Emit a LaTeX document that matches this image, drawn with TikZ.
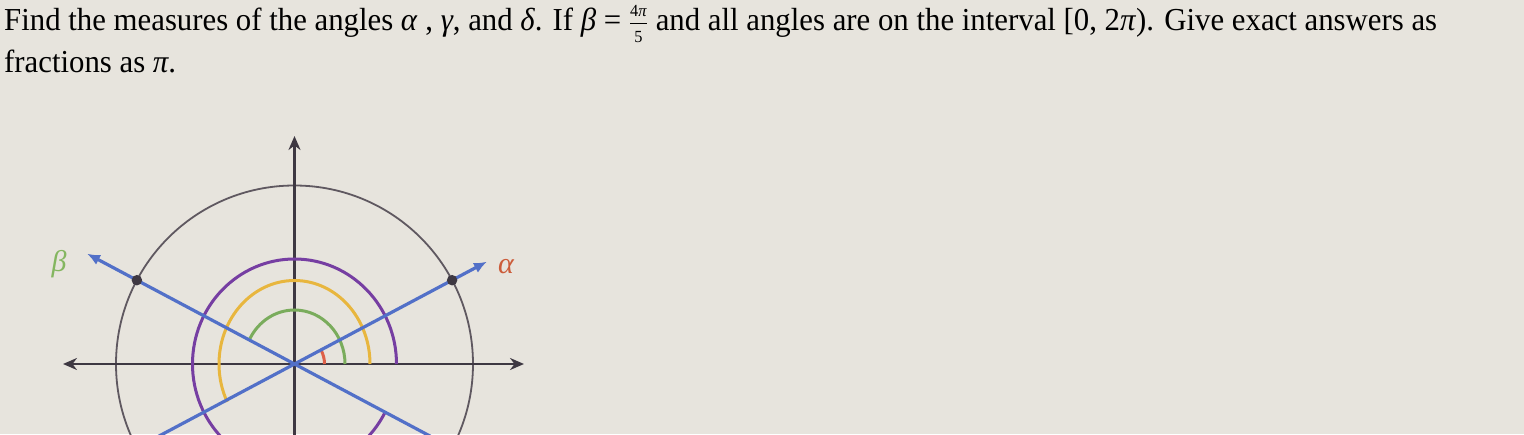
\RequirePackage{fix-cm}
\documentclass[tikz,border=0pt]{standalone}
\usepackage{fontspec}
\setmainfont{Liberation Serif}
\usetikzlibrary{arrows.meta,calc}
\definecolor{bgc}{RGB}{231,228,221}
\definecolor{txt}{RGB}{48,40,56}
\definecolor{axisc}{RGB}{62,56,66}
\definecolor{circc}{RGB}{95,88,96}
\definecolor{bluel}{RGB}{82,112,200}
\definecolor{purp}{RGB}{118,62,162}
\definecolor{yell}{RGB}{232,182,62}
\definecolor{grn}{RGB}{122,172,92}
\definecolor{redc}{RGB}{222,96,72}
\definecolor{alphac}{RGB}{204,92,58}
\definecolor{betac}{RGB}{132,182,96}
\newsavebox\lineonebox
\newsavebox\linetwobox
\newcommand\gk[1]{\textit{#1}}
\newcommand\smallfr[2]{\raisebox{-0.5pt}{\ensuremath{\frac{\hbox{\fontsize{17}{18}\selectfont\raisebox{2pt}{#1}}}{\hbox{\fontsize{17}{18}\selectfont #2}}}}}
\begin{document}
\sbox\lineonebox{\fontsize{32}{38}\selectfont Find the measures of the angles \gk{α} , \gk{γ}, and \gk{δ}. If \gk{β} = \smallfr{4\gk{π}}{5} and all angles are on the interval [0, 2\gk{π}). Give exact answers as}%
\sbox\linetwobox{\fontsize{32}{38}\selectfont fractions as \gk{π}.}%
\pgfmathsetmacro\sx{1433/\wd\lineonebox}%
\begin{tikzpicture}[x=1pt,y=1pt,
  axisline/.style={draw=axisc,line width=2.4pt},
  blueline/.style={draw=bluel,line width=3.2pt},
  arcline/.style={line width=3pt},
  dotmark/.style={circle,fill=axisc,inner sep=0pt,minimum size=10.5pt},
  lbl/.style={font=\fontsize{30}{34}\selectfont\itshape},
  txtline/.style={anchor=base west,inner sep=0pt,text=txt}]
\useasboundingbox (0,0) rectangle (1524,434);
\fill[bgc] (0,0) rectangle (1524,434);
\clip (0,0) rectangle (1524,434);
% text
\node[txtline] (t1) at (4,403) {\scalebox{\sx}[1]{\usebox\lineonebox}};
\node[txtline] (t2) at (4,361) {\scalebox{\sx}[1]{\usebox\linetwobox}};
% geometry
\coordinate (O) at (294.5,70);
\coordinate (xl) at (63,70);
\coordinate (xr) at (524,70);
\coordinate (yb) at (294.5,-20);
\coordinate (yt) at (294.5,298);
\coordinate (Atip) at ($(O)+(28:218)$);
\coordinate (Aback) at ($(O)+(208:280)$);
\coordinate (Btip) at ($(O)+(152:235)$);
\coordinate (Bback) at ($(O)+(332:280)$);
% outer circle
\draw[circc,line width=1.8pt] (O) circle (178.5);
% axes
\draw[axisline,{Stealth[length=14pt,width=12pt]}-{Stealth[length=14pt,width=12pt]}] (xl) -- (xr);
\draw[axisline,-{Stealth[length=14pt,width=12pt]}] (yb) -- (yt);
% angle arcs
\draw[arcline,purp] ($(O)+(102,0)$) arc[start angle=0,end angle=332,x radius=102,y radius=105];
\draw[arcline,yell] ($(O)+(75.5,0)$) arc[start angle=0,end angle=207,x radius=75.5,y radius=83.5];
\draw[arcline,grn] ($(O)+(50.5,0)$) arc[start angle=0,end angle=152,x radius=50.5,y radius=54];
\draw[arcline,redc] ($(O)+(30,0)$) arc[start angle=0,end angle=28,radius=30];
% terminal sides
\draw[blueline,-{Latex[length=13pt,width=11pt]}] (Aback) -- (Atip);
\draw[blueline,-{Latex[length=13pt,width=11pt]}] (Bback) -- (Btip);
% points on circle
\node[dotmark] (PA) at ($(O)+(28:178.5)$) {};
\node[dotmark] (PB) at ($(O)+(152:178.5)$) {};
% labels
\node[lbl,text=alphac] (la) at (506,167) {α};
\node[lbl,text=betac] (lb) at (59,170) {β};
\end{tikzpicture}
\end{document}
